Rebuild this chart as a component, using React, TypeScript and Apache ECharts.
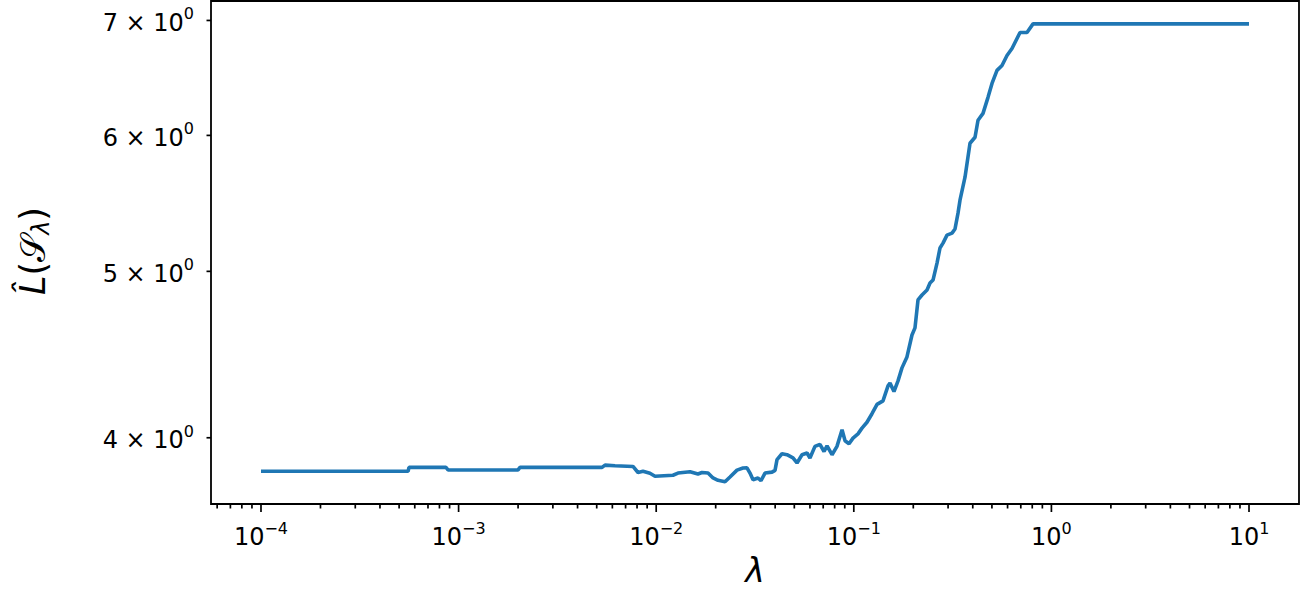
import React, { useEffect, useRef } from "react";
import * as echarts from "echarts";

// lambda values (x, log scale)
const lambdas = [
  1e-4, 5.55e-4, 5.61e-4, 8.63e-4, 8.84e-4, 2.0e-3, 2.045e-3, 5.32e-3, 5.51e-3,
  6.19e-3, 7.63e-3, 8.09e-3, 8.57e-3, 9.3e-3, 9.86e-3, 1.216e-2, 1.289e-2,
  1.483e-2, 1.627e-2, 1.705e-2, 1.829e-2, 1.939e-2, 2.055e-2, 2.23e-2, 2.363e-2,
  2.564e-2, 2.75e-2, 2.88e-2, 2.983e-2, 3.09e-2, 3.274e-2, 3.39e-2, 3.553e-2,
  3.855e-2, 3.993e-2, 4.087e-2, 4.33e-2, 4.59e-2, 4.923e-2, 5.16e-2, 5.47e-2,
  5.8e-2, 6.0e-2, 6.36e-2, 6.74e-2, 7.07e-2, 7.32e-2, 7.76e-2, 8.22e-2, 8.72e-2,
  9.03e-2, 9.46e-2, 9.91e-2, 0.105, 0.11, 0.1166, 0.1236, 0.1311, 0.1405, 0.149,
  0.1525, 0.1597, 0.1674, 0.1753, 0.1858, 0.197, 0.204, 0.2113, 0.2214, 0.2347,
  0.243, 0.2517, 0.2637, 0.273, 0.2828, 0.2962, 0.3141, 0.3252, 0.3368, 0.3447,
  0.3654, 0.3873, 0.4107, 0.4252, 0.4507, 0.4777, 0.5005, 0.5305, 0.5623,
  0.5961, 0.6319, 0.6937, 0.7525, 0.8071, 10,
];

// empirical loss L(S_lambda)
const losses = [
  3.824, 3.824, 3.844, 3.844, 3.831, 3.831, 3.844, 3.844, 3.856, 3.853, 3.849,
  3.818, 3.824, 3.814, 3.799, 3.804, 3.815, 3.822, 3.81, 3.818, 3.815, 3.79,
  3.778, 3.771, 3.795, 3.83, 3.841, 3.842, 3.815, 3.781, 3.79, 3.776, 3.815,
  3.82, 3.829, 3.884, 3.915, 3.91, 3.894, 3.867, 3.91, 3.919, 3.893, 3.954,
  3.965, 3.927, 3.957, 3.91, 3.954, 4.043, 3.984, 3.968, 3.998, 4.021, 4.052,
  4.084, 4.131, 4.183, 4.203, 4.288, 4.304, 4.256, 4.317, 4.393, 4.458, 4.591,
  4.635, 4.812, 4.844, 4.877, 4.922, 4.942, 5.056, 5.159, 5.193, 5.249, 5.263,
  5.292, 5.406, 5.501, 5.673, 5.937, 5.985, 6.123, 6.18, 6.314, 6.433, 6.547,
  6.59, 6.679, 6.742, 6.888, 6.888, 6.968, 6.968,
];

const xDecades = [-4, -3, -2, -1, 0, 1];
const yTicks = [4, 5, 6, 7];

const FONT = "DejaVu Sans";
const X_MIN = Math.pow(10, -4.253);
const X_MAX = Math.pow(10, 1.253);
const Y_MIN = 3.66;
const Y_MAX = 7.185;

const supRich = {
  a: { fontFamily: FONT, fontSize: 24, lineHeight: 29, verticalAlign: "bottom", color: "#000" },
  b: { fontFamily: FONT, fontSize: 16, lineHeight: 16, verticalAlign: "top", color: "#000" },
};

const App: React.FC = () => {
  const chartRef = useRef<HTMLDivElement>(null);

  useEffect(() => {
    document.body.style.margin = "0";
    if (!chartRef.current) return;
    const chart = echarts.init(chartRef.current, null, { renderer: "svg" });

    const option = {
      animation: false,
      grid: {
        left: 211,
        right: 1,
        top: 1,
        bottom: 86,
        show: true,
        borderColor: "#000",
        borderWidth: 1.8,
        backgroundColor: "transparent",
      },
      xAxis: {
        type: "log",
        logBase: 10,
        min: X_MIN,
        max: X_MAX,
        axisLine: { show: false },
        axisTick: { show: false },
        splitLine: { show: false },
        axisLabel: {
          margin: 16,
          showMinLabel: false,
          showMaxLabel: false,
          formatter: (v: number) => {
            const e = Math.round(Math.log10(v));
            return `{a|10}{b|${e < 0 ? "\u2212" : ""}${Math.abs(e)}}`;
          },
          rich: supRich,
        },
      },
      yAxis: {
        type: "log",
        logBase: 10,
        min: Y_MIN,
        max: Y_MAX,
        axisLine: { show: false },
        axisTick: { show: false },
        splitLine: { show: false },
        axisLabel: { show: false },
      },
      series: [
        {
          type: "line",
          data: lambdas.map((l, i) => [l, losses[i]]),
          showSymbol: false,
          lineStyle: { color: "#1f77b4", width: 3.6 },
          itemStyle: { color: "#1f77b4" },
        },
      ],
    };
    chart.setOption(option);

    const px = (v: number) => chart.convertToPixel({ xAxisIndex: 0 }, v) as number;
    const py = (v: number) => chart.convertToPixel({ yAxisIndex: 0 }, v) as number;
    const bottom = py(Y_MIN);
    const left = px(X_MIN);
    const tickStyle = { stroke: "#000", lineWidth: 1.7 };
    const graphics: any[] = [];

    // x major and minor ticks
    xDecades.forEach((d) => {
      const x = px(Math.pow(10, d));
      graphics.push({ type: "line", silent: true, shape: { x1: x, y1: bottom, x2: x, y2: bottom + 8 }, style: tickStyle });
    });
    for (let d = -5; d <= 1; d++) {
      for (let k = 2; k <= 9; k++) {
        const v = k * Math.pow(10, d);
        if (v < X_MIN || v > X_MAX) continue;
        const x = px(v);
        graphics.push({ type: "line", silent: true, shape: { x1: x, y1: bottom, x2: x, y2: bottom + 4.5 }, style: tickStyle });
      }
    }

    // y ticks (labelled minor ticks of a log axis)
    yTicks.forEach((t) => {
      const y = py(t);
      graphics.push({ type: "line", silent: true, shape: { x1: left - 4.5, y1: y, x2: left, y2: y }, style: tickStyle });
      graphics.push({
        type: "text",
        silent: true,
        x: 194,
        y,
        style: { text: `{a|${t} \u00d7 10}{b|0}`, rich: supRich, align: "right", verticalAlign: "middle" },
      });
    });

    // axis titles
    graphics.push({
      type: "text",
      silent: true,
      x: 755,
      y: 570,
      style: { text: "\u03bb", fontFamily: FONT, fontSize: 33, fontStyle: "italic", fill: "#000", align: "center", verticalAlign: "middle" },
    });
    graphics.push({
      type: "text",
      silent: true,
      x: 34,
      y: 251,
      rotation: Math.PI / 2,
      style: {
        text: "{m|L\u0302}{n|(}{s|\u{1D4AE}}{sub|\u03bb}{n|)}",
        align: "center",
        verticalAlign: "middle",
        rich: {
          m: { fontFamily: FONT, fontSize: 35, fontStyle: "italic", lineHeight: 38, verticalAlign: "top", color: "#000" },
          n: { fontFamily: FONT, fontSize: 35, lineHeight: 38, verticalAlign: "top", color: "#000" },
          s: { fontFamily: FONT, fontSize: 35, lineHeight: 38, verticalAlign: "top", color: "#000" },
          sub: { fontFamily: FONT, fontSize: 24, fontStyle: "italic", lineHeight: 24, verticalAlign: "bottom", color: "#000" },
        },
      },
    });

    chart.setOption({ graphic: graphics });

    return () => {
      chart.dispose();
    };
  }, []);

  return <div ref={chartRef} style={{ width: 1300, height: 590 }}></div>;
};

export default App;
